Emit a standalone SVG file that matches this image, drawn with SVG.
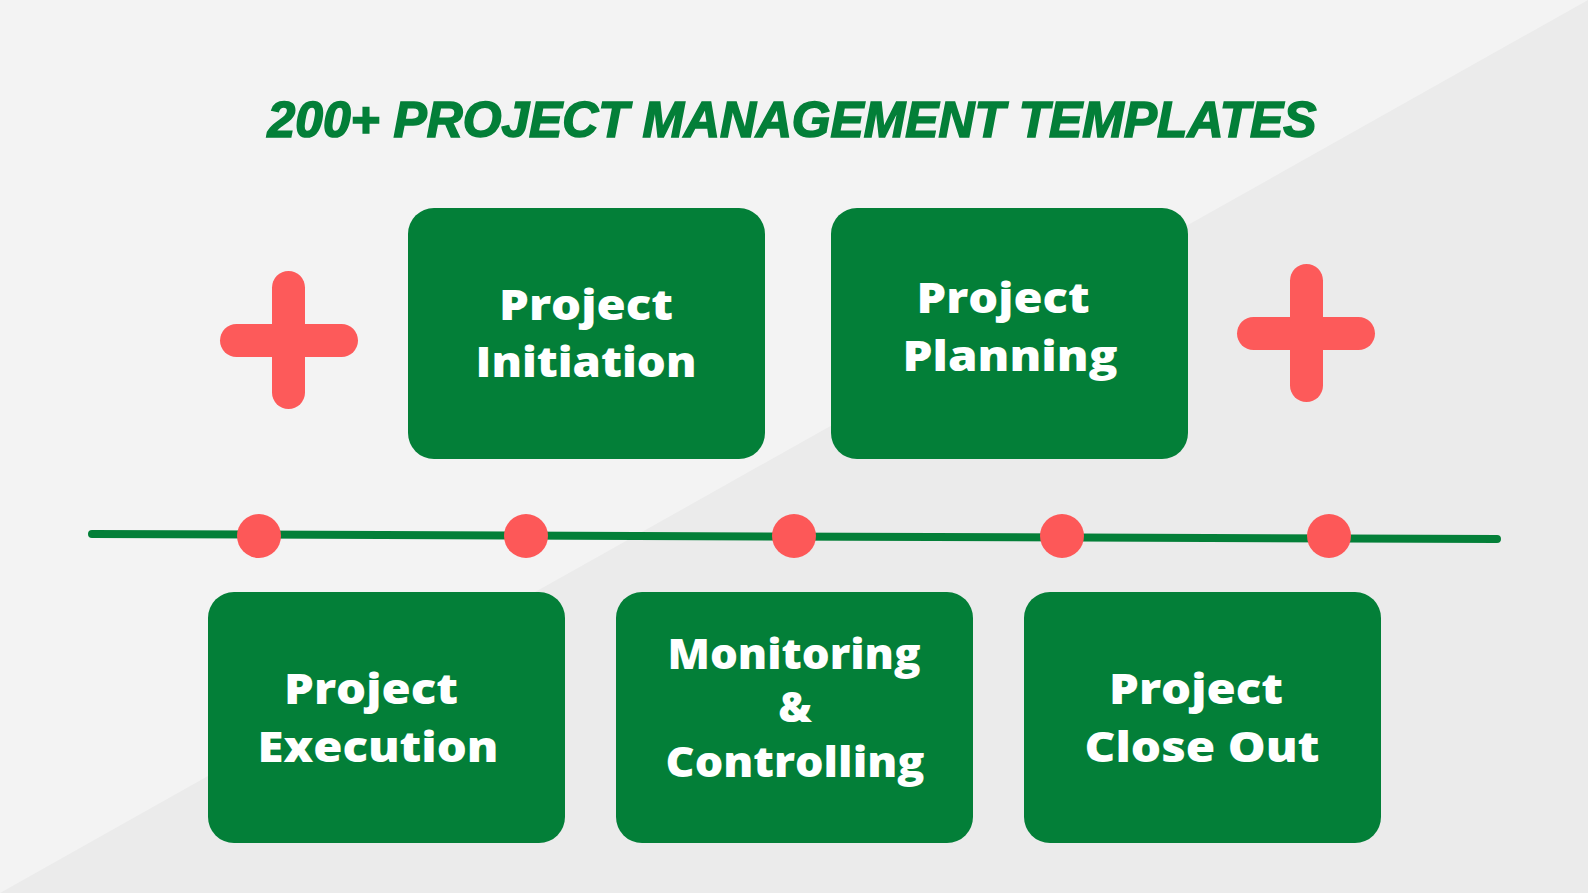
<svg xmlns="http://www.w3.org/2000/svg" width="1588" height="893" viewBox="0 0 1588 893">
<style>
.box{fill:#037f38}
.lbl{fill:#ffffff;font-family:"Open Sans","Liberation Sans",sans-serif;font-weight:800;font-size:42px;text-anchor:middle}
.plus{fill:#fd5a5a}
.dot{fill:#fd5858}
.title{fill:#037f38;stroke:#037f38;stroke-width:1.6;font-family:"Liberation Sans","Open Sans",sans-serif;font-weight:700;font-style:italic;font-size:50px;text-anchor:middle}
</style>
<rect x="0" y="0" width="1588" height="893" fill="#f3f3f3"/>
<polygon points="0,893 1588,0 1588,893" fill="#ebebeb"/>
<text class="title" x="792" y="137" textLength="1049" lengthAdjust="spacingAndGlyphs">200+ PROJECT MANAGEMENT TEMPLATES</text>
<g id="plus-left"><rect class="plus" x="272" y="271" width="33" height="138" rx="16.5"/><rect class="plus" x="220" y="324" width="138" height="33" rx="16.5"/></g>
<g id="plus-right"><rect class="plus" x="1290" y="264" width="33" height="138" rx="16.5"/><rect class="plus" x="1237" y="317" width="138" height="33" rx="16.5"/></g>
<g id="connectors"><line x1="92" y1="534" x2="1497" y2="539" stroke="#037f38" stroke-width="8" stroke-linecap="round"/></g>
<g id="dots"><circle class="dot" cx="259" cy="536" r="22"/><circle class="dot" cx="526" cy="536" r="22"/><circle class="dot" cx="794" cy="536" r="22"/><circle class="dot" cx="1062" cy="536" r="22"/><circle class="dot" cx="1329" cy="536" r="22"/></g>
<g id="initiation"><rect class="box" x="408" y="208" width="357" height="251" rx="26"/><text class="lbl" x="586" y="320" textLength="174" lengthAdjust="spacingAndGlyphs">Project</text><text class="lbl" x="586" y="377" textLength="221" lengthAdjust="spacingAndGlyphs">Initiation</text></g>
<g id="planning"><rect class="box" x="831" y="208" width="357" height="251" rx="26"/><text class="lbl" x="1003" y="313" textLength="173" lengthAdjust="spacingAndGlyphs">Project</text><text class="lbl" x="1010" y="371" textLength="215" lengthAdjust="spacingAndGlyphs">Planning</text></g>
<g id="execution"><rect class="box" x="208" y="592" width="357" height="251" rx="26"/><text class="lbl" x="371" y="704" textLength="174" lengthAdjust="spacingAndGlyphs">Project</text><text class="lbl" x="378" y="762" textLength="241" lengthAdjust="spacingAndGlyphs">Execution</text></g>
<g id="monitoring"><rect class="box" x="616" y="592" width="357" height="251" rx="26"/><text class="lbl" x="794" y="669" textLength="253" lengthAdjust="spacingAndGlyphs">Monitoring</text><text class="lbl" x="795" y="722">&amp;</text><text class="lbl" x="795" y="777" textLength="259" lengthAdjust="spacingAndGlyphs">Controlling</text></g>
<g id="closeout"><rect class="box" x="1024" y="592" width="357" height="251" rx="26"/><text class="lbl" x="1196" y="704" textLength="174" lengthAdjust="spacingAndGlyphs">Project</text><text class="lbl" x="1202" y="762" textLength="235" lengthAdjust="spacingAndGlyphs">Close Out</text></g>
</svg>
